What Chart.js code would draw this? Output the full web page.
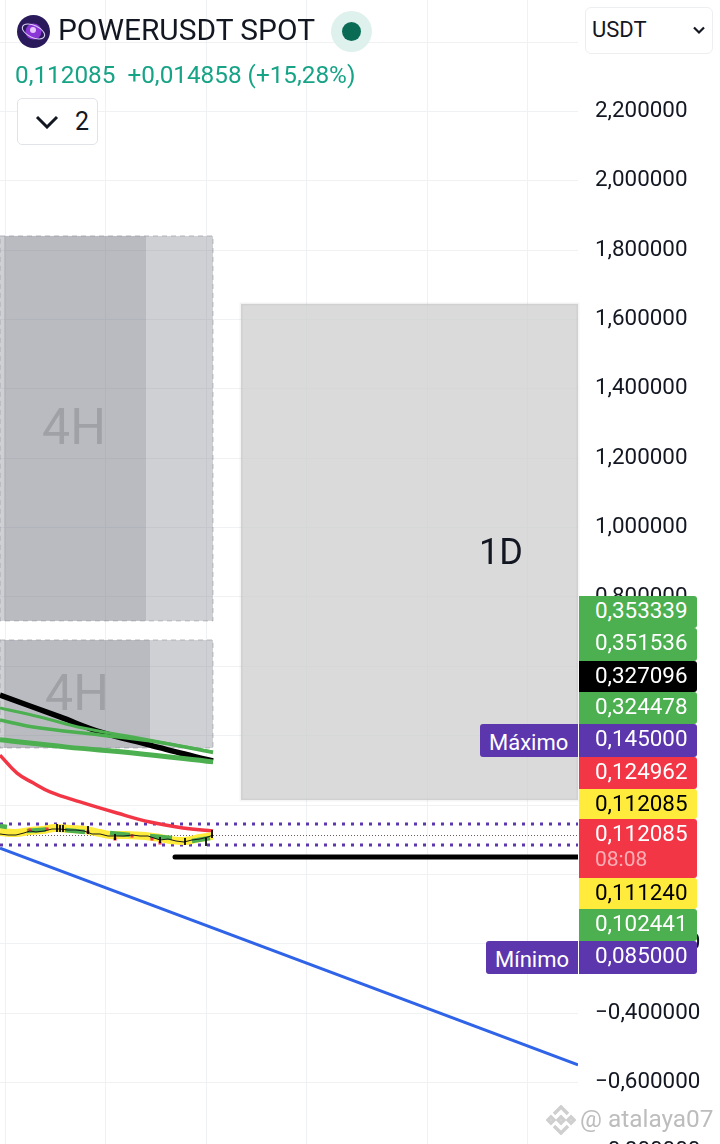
<!DOCTYPE html>
<html lang="es">
<head>
<meta charset="utf-8">
<title>POWERUSDT SPOT</title>
<script src="https://cdn.jsdelivr.net/npm/chart.js@4"></script>
<style>
  html, body { margin: 0; padding: 0; width: 720px; height: 1144px; overflow: hidden; background: #fff; font-family: Roboto, sans-serif; color: #131722; }
  #wrap { position: absolute; left: 0; top: 0; width: 720px; height: 1220px; }
  .abs { position: absolute; white-space: nowrap; }
  #logo { left: 17px; top: 15px; }
  #titulo { left: 58px; top: 13px; font-size: 29.9px; line-height: 34px; }
  #estadoFondo { left: 331px; top: 11px; width: 41px; height: 41px; border-radius: 50%; background: #dff1ed; }
  #estado { left: 341.5px; top: 21.5px; width: 19px; height: 19px; border-radius: 50%; background: #0a6b55; }
  #precio { left: 15px; top: 61px; font-size: 24.3px; line-height: 28px; color: #17a386; white-space: pre; }
  #caja { left: 17px; top: 98px; width: 79px; height: 45px; border: 1px solid #e0e3e8; border-radius: 5px; background: #fff; }
  #caja svg { position: absolute; left: 17px; top: 16px; }
  #caja span { position: absolute; left: 57px; top: 8px; font-size: 25px; line-height: 30px; }
  #moneda { left: 585px; top: 7px; width: 126px; height: 45px; border: 1px solid #eceef1; border-radius: 6px; background: #fff; }
  #moneda span { position: absolute; left: 6px; top: 7px; font-size: 22px; line-height: 30px; }
  #moneda svg { position: absolute; left: 107px; top: 18px; }
  .et { left: 579px; width: 118px; box-sizing: border-box; padding-left: 16px; font-size: 22.4px; line-height: 28px; border-radius: 0 3px 3px 0; color: #fff; }
  .lado { box-sizing: border-box; height: 33px; padding-left: 9px; font-size: 22px; line-height: 37px; background: #5c36ad; color: #fff; border-radius: 3px 0 0 3px; border-right: 1px solid #fff; }
  #marca { left: 580px; top: 1104px; font-size: 24.4px; line-height: 30px; color: #bdbdbd; text-shadow: 0 0 2px #fff; }
  #rombo { left: 546px; top: 1105px; }
</style>
</head>
<body>
<div id="wrap"><canvas id="grafico" width="720" height="1220"></canvas></div>

<svg class="abs" id="logo" width="33" height="33" viewBox="0 0 33 33">
  <circle cx="16.5" cy="16.5" r="16.5" fill="#2a1a5c"/>
  <circle cx="16.5" cy="16.5" r="8" fill="#8a35d6"/>
  <circle cx="16" cy="15" r="3" fill="#e6c8ff"/>
  <ellipse cx="16.5" cy="16.5" rx="12" ry="6" fill="none" stroke="#d9cdf5" stroke-width="1" transform="rotate(25 16.5 16.5)"/>
</svg>
<div class="abs" id="titulo">POWERUSDT SPOT</div>
<div class="abs" id="estadoFondo"></div>
<div class="abs" id="estado"></div>
<div class="abs" id="precio">0,112085  +0,014858 (+15,28%)</div>
<div class="abs" id="caja">
  <svg width="24" height="14" viewBox="0 0 24 14"><path d="M2 2 L12 12 L22 2" fill="none" stroke="#131722" stroke-width="3"/></svg>
  <span>2</span>
</div>
<div class="abs" id="moneda">
  <span>USDT</span>
  <svg width="12" height="9" viewBox="0 0 12 9"><path d="M1 1.5 L6 6.5 L11 1.5" fill="none" stroke="#131722" stroke-width="2.2"/></svg>
</div>

<div class="abs lado" style="left:480px;top:724px;width:99px;">Máximo</div>
<div class="abs lado" style="left:486px;top:941px;width:93px;">Mínimo</div>
<div id="etiquetas"></div>

<svg class="abs" id="rombo" width="30" height="30" viewBox="0 0 30 30">
  <g fill="none" stroke="#cfcfcf" stroke-width="3.5">
    <path d="M8 9 L15 2 L22 9"/><path d="M8 21 L15 28 L22 21"/><path d="M2 15 L5 12 L8 15 L5 18 Z"/><path d="M22 15 L25 12 L28 15 L25 18 Z"/><path d="M12 15 L15 12 L18 15 L15 18 Z"/>
  </g>
</svg>
<div class="abs" id="marca">@ atalaya07</div>

<script>
// ejes
const xGrid = [5, 105.7, 206, 306.7, 427, 527];
const yTicks = [2.4, 2.2, 2.0, 1.8, 1.6, 1.4, 1.2, 1.0, 0.8, 0.6, 0.4, 0.2, 0, -0.2, -0.4, -0.6, -0.8];
const xMin = 0, xMax = 578;
const yMin = -0.99654, yMax = 2.52134;

// lineas
const negroX = [0, 60, 100, 150, 180, 213];
const negroY = [0.517, 0.454, 0.411, 0.373, 0.350, 0.327096];
const verde1X = [0, 40, 83, 133, 213];
const verde1Y = [0.480, 0.454, 0.422, 0.396, 0.353339];
const verde2X = [0, 33, 100, 150, 213];
const verde2Y = [0.445, 0.425, 0.402, 0.385, 0.351536];
const verde3X = [0, 67, 133, 213];
const verde3Y = [0.388, 0.367, 0.350, 0.324478];
const rojoX = [0, 17, 33, 50, 80, 117, 150, 183, 213];
const rojoY = [0.344, 0.292, 0.264, 0.238, 0.209, 0.177, 0.151, 0.134, 0.124962];
const azulX = [0, 578];
const azulY = [0.076, -0.5495];
const soporteX = [175, 578];
const soporteY = [0.050, 0.050];

// niveles
const maximo = 0.145, minimo = 0.085, ultimo = 0.112085;

// media amarilla y velas
const amarilloX = [0, 15, 30, 42, 55, 70, 85, 100, 110, 125, 145, 160, 170, 185, 200, 213];
const amarilloY = [0.1223, 0.1194, 0.1251, 0.1280, 0.1338, 0.1309, 0.1280, 0.1194, 0.1136, 0.1136, 0.1107, 0.1050, 0.0992, 0.0963, 0.1050, 0.1112];
const velaX = [0, 8, 16, 24, 30, 36, 44, 52, 60, 68, 76, 84, 92, 100, 108, 116, 124, 132, 140, 148, 154, 160, 168, 176, 184, 192, 200, 208, 213];
const velaY = [0.1165, 0.1136, 0.1136, 0.1194, 0.1251, 0.1223, 0.1251, 0.1309, 0.1309, 0.1280, 0.1280, 0.1251, 0.1165, 0.1165, 0.1107, 0.1107, 0.1107, 0.1136, 0.1107, 0.1107, 0.1050, 0.0992, 0.1021, 0.0963, 0.0934, 0.0992, 0.1021, 0.1078, 0.1136];
const mechaX = [57, 60, 63, 88, 115, 160, 185, 206, 212];
const mechaAlto = [0.1453, 0.1424, 0.1424, 0.1395, 0.1165, 0.1078, 0.1050, 0.1050, 0.1280];
const mechaBajo = [0.1223, 0.1223, 0.1223, 0.1165, 0.0992, 0.0905, 0.0848, 0.0820, 0.1050];
const tramoX0 = [0, 27, 65, 110, 150, 192];
const tramoX1 = [7, 46, 85, 130, 172, 210];
const tramoY0 = [0.1395, 0.1251, 0.1280, 0.1194, 0.1107, 0.0963];
const tramoY1 = [0.1367, 0.1295, 0.1223, 0.1136, 0.1050, 0.1050];
const bajistaX = [30, 47, 88, 115, 132, 152, 160];
const bajistaY = [0.1280, 0.1309, 0.1223, 0.1021, 0.1107, 0.1021, 0.0905];

// cajas de dibujo
const cajaX0 = [0, 0, 241];
const cajaX1 = [213, 213, 578];
const cajaArriba = [1.841, 0.676, 1.645];
const cajaAbajo = [0.731, 0.3645, 0.2145];
const rellenoX0 = [4, 4];
const rellenoX1 = [146, 150];
const textoCaja = ['4H', '4H', '1D'];
const textoX = [74, 77, 501];
const textoY = [1.278, 0.511, 0.921];

// etiquetas de precio
const precios = ['0,353339', '0,351536', '0,327096', '0,324478', '0,145000', '0,124962', '0,112085', '0,112085', '0,111240', '0,102441', '0,085000'];
const coloresPrecio = ['#4caf50', '#4caf50', '#000000', '#4caf50', '#5c36ad', '#f23645', '#ffeb3b', '#f23645', '#ffeb3b', '#4caf50', '#5c36ad'];
const bordes = [596, 628, 661, 692, 724, 757, 789, 819, 878, 909, 941, 974];

const etiquetas = document.getElementById('etiquetas');
precios.forEach((p, i) => {
    const d = document.createElement('div');
    d.className = 'abs et';
    d.style.top = bordes[i] + 'px';
    d.style.height = (bordes[i + 1] - bordes[i]) + 'px';
    d.style.background = coloresPrecio[i];
    d.style.color = coloresPrecio[i] === '#ffeb3b' ? '#000' : '#fff';
    d.textContent = p;
    if (i === 7) {
        const t = document.createElement('div');
        t.textContent = '08:08';
        t.style.cssText = 'color:rgba(255,255,255,.6);font-size:21px;line-height:24px;';
        d.appendChild(t);
    }
    etiquetas.appendChild(d);
});

function puntos(xs, ys) {
    return xs.map((x, i) => ({ x: x, y: ys[i] }));
}

function linea(xs, ys, color, ancho, extra) {
    return Object.assign({
        data: puntos(xs, ys),
        borderColor: color,
        backgroundColor: color,
        borderWidth: ancho,
        pointRadius: 0,
        tension: 0.4,
        fill: false
    }, extra || {});
}

const mechas = mechaX.flatMap((x, i) => [{ x: x, y: mechaAlto[i] }, { x: x, y: mechaBajo[i] }, { x: x, y: null }]);
const tramos = tramoX0.flatMap((x, i) => [{ x: x, y: tramoY0[i] }, { x: tramoX1[i], y: tramoY1[i] }, { x: tramoX1[i], y: null }]);

// cajas y rotulos por debajo de las lineas
const pluginCajas = {
    id: 'cajas',
    beforeDatasetsDraw(chart) {
        const { ctx, scales: { x, y } } = chart;
        ctx.save();
        cajaX0.forEach((x0, i) => {
            const px = x.getPixelForValue(x0);
            const py = y.getPixelForValue(cajaArriba[i]);
            const w = x.getPixelForValue(cajaX1[i]) - px;
            const h = y.getPixelForValue(cajaAbajo[i]) - py;
            if (textoCaja[i] === '1D') {
                ctx.fillStyle = 'rgba(205,205,205,0.75)';
                ctx.fillRect(px, py, w, h);
                ctx.strokeStyle = 'rgba(0,0,0,0.04)';
                ctx.lineWidth = 3;
                ctx.strokeRect(px, py, w, h);
            } else {
                ctx.fillStyle = 'rgba(120,123,134,0.355)';
                ctx.fillRect(px, py, w, h);
                const rx = x.getPixelForValue(rellenoX0[i]);
                ctx.fillStyle = 'rgba(120,123,134,0.25)';
                ctx.fillRect(rx, py, x.getPixelForValue(rellenoX1[i]) - rx, h);
                ctx.setLineDash([5, 4]);
                ctx.strokeStyle = 'rgba(120,123,134,0.45)';
                ctx.lineWidth = 1;
                ctx.strokeRect(px, py, w, h);
                ctx.setLineDash([]);
            }
        });
        ctx.textAlign = 'center';
        ctx.textBaseline = 'middle';
        textoCaja.forEach((t, i) => {
            ctx.font = (t === '1D' ? '36px' : '50px') + ' Roboto';
            ctx.fillStyle = t === '1D' ? '#131722' : '#a0a1a6';
            ctx.fillText(t, x.getPixelForValue(textoX[i]), y.getPixelForValue(textoY[i]));
        });
        ctx.restore();
    }
};

function xMinMax() {
    return [xMin, xMax];
}

// el primero queda encima
const datasets = [
    { data: mechas, borderColor: '#000', borderWidth: 1, pointRadius: 0, spanGaps: false },
    linea(velaX, velaY, '#1a1a1a', 1, { tension: 0 }),
    { data: puntos(bajistaX, bajistaY), showLine: false, pointStyle: 'rect', pointRadius: 2.2, backgroundColor: '#f23645', borderWidth: 0 },
    { data: tramos, borderColor: '#4caf50', borderWidth: 4.5, pointRadius: 0, spanGaps: false },
    linea(amarilloX, amarilloY, '#ffeb3b', 8),
    linea(rojoX, rojoY, '#f23645', 3.5),
    linea(verde1X, verde1Y, '#4caf50', 3),
    linea(verde2X, verde2Y, '#4caf50', 3.5),
    linea(verde3X, verde3Y, '#4caf50', 5),
    linea(negroX, negroY, '#000000', 5.5),
    linea(xMinMax(), [maximo, maximo], '#5c36ad', 3, { borderDash: [3, 6], tension: 0 }),
    linea(xMinMax(), [minimo, minimo], '#5c36ad', 3, { borderDash: [3, 6], tension: 0 }),
    linea(xMinMax(), [ultimo, ultimo], '#6b5a5a', 1, { borderDash: [1, 2], tension: 0 }),
    linea(azulX, azulY, '#2f63e8', 3, { tension: 0 }),
    linea(soporteX, soporteY, '#000000', 5, { tension: 0, borderCapStyle: 'round' })
];

new Chart(document.getElementById('grafico').getContext('2d'), {
    type: 'line',
    data: { datasets: datasets },
    plugins: [pluginCajas],
    options: {
        responsive: false,
        animation: false,
        layout: { padding: 0, autoPadding: false },
        plugins: { legend: { display: false }, tooltip: { enabled: false } },
        scales: {
            x: {
                type: 'linear',
                min: xMin,
                max: xMax,
                border: { display: false },
                grid: { color: '#f0f1f3', lineWidth: 1, drawTicks: false },
                ticks: { display: false, autoSkip: false },
                afterBuildTicks(scale) { scale.ticks = xGrid.map(v => ({ value: v })); },
                afterFit(scale) { scale.height = 0; scale.paddingLeft = 0; scale.paddingRight = 0; }
            },
            y: {
                type: 'linear',
                position: 'right',
                min: yMin,
                max: yMax,
                border: { display: false },
                grid: { color: '#f0f1f3', lineWidth: 1, drawTicks: false },
                ticks: {
                    padding: 17,
                    labelOffset: 0,
                    autoSkip: false,
                    color: '#131722',
                    font: { family: 'Roboto', size: 22.4 },
                    callback(v) { return v.toFixed(6).replace('.', ',').replace('-', '\u2212'); }
                },
                afterBuildTicks(scale) { scale.ticks = yTicks.map(v => ({ value: v })); },
                afterFit(scale) { scale.width = 142; scale.paddingTop = 0; scale.paddingBottom = 0; }
            }
        }
    }
});
</script>
</body>
</html>
